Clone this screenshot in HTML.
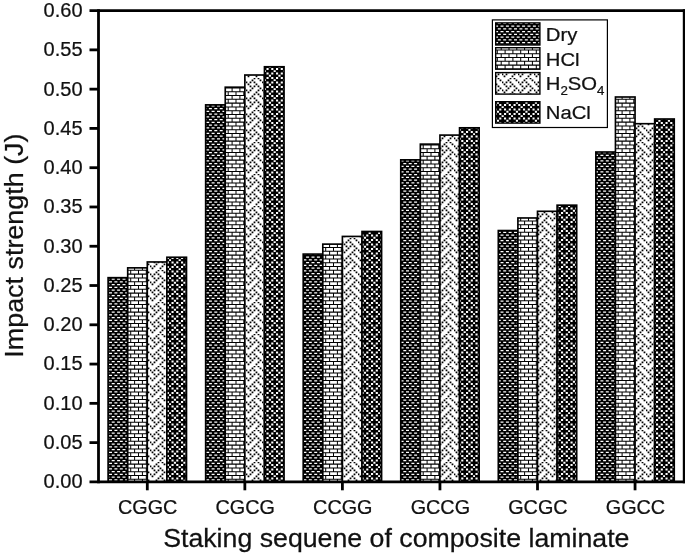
<!DOCTYPE html>
<html><head><meta charset="utf-8"><title>Impact strength chart</title>
<style>
html,body{margin:0;padding:0;background:#fff;}
body{width:685px;height:556px;overflow:hidden;}
svg{display:block;}
text{font-family:"Liberation Sans",sans-serif;fill:#111;stroke:#111;stroke-width:0.25px;}
</style></head><body>
<svg width="685" height="556" viewBox="0 0 685 556">
<defs>
<pattern id="p-dry" patternUnits="userSpaceOnUse" width="27" height="11"><rect width="27" height="11" fill="#000"/><path fill="#fff" d="M-4.40 0.70h3.00v1.25h-3.00zM1.00 0.70h3.00v1.25h-3.00zM6.40 0.70h3.00v1.25h-3.00zM11.80 0.70h3.00v1.25h-3.00zM17.20 0.70h3.00v1.25h-3.00zM22.60 0.70h3.00v1.25h-3.00zM28.00 0.70h3.00v1.25h-3.00zM-1.70 3.45h3.00v1.25h-3.00zM3.70 3.45h3.00v1.25h-3.00zM9.10 3.45h3.00v1.25h-3.00zM14.50 3.45h3.00v1.25h-3.00zM19.90 3.45h3.00v1.25h-3.00zM25.30 3.45h3.00v1.25h-3.00zM30.70 3.45h3.00v1.25h-3.00zM-4.40 6.20h3.00v1.25h-3.00zM1.00 6.20h3.00v1.25h-3.00zM6.40 6.20h3.00v1.25h-3.00zM11.80 6.20h3.00v1.25h-3.00zM17.20 6.20h3.00v1.25h-3.00zM22.60 6.20h3.00v1.25h-3.00zM28.00 6.20h3.00v1.25h-3.00zM-1.70 8.95h3.00v1.25h-3.00zM3.70 8.95h3.00v1.25h-3.00zM9.10 8.95h3.00v1.25h-3.00zM14.50 8.95h3.00v1.25h-3.00zM19.90 8.95h3.00v1.25h-3.00zM25.30 8.95h3.00v1.25h-3.00zM30.70 8.95h3.00v1.25h-3.00z"/></pattern>
<pattern id="p-hcl" patternUnits="userSpaceOnUse" width="78" height="38"><rect width="78" height="38" fill="#fff"/><path fill="#000" d="M0 0.00h78v1.05h-78zM1.50 0.00h1.00v3.80h-1.00zM9.30 0.00h1.00v3.80h-1.00zM17.10 0.00h1.00v3.80h-1.00zM24.90 0.00h1.00v3.80h-1.00zM32.70 0.00h1.00v3.80h-1.00zM40.50 0.00h1.00v3.80h-1.00zM48.30 0.00h1.00v3.80h-1.00zM56.10 0.00h1.00v3.80h-1.00zM63.90 0.00h1.00v3.80h-1.00zM71.70 0.00h1.00v3.80h-1.00zM0 3.80h78v1.05h-78zM5.40 3.80h1.00v3.80h-1.00zM13.20 3.80h1.00v3.80h-1.00zM21.00 3.80h1.00v3.80h-1.00zM28.80 3.80h1.00v3.80h-1.00zM36.60 3.80h1.00v3.80h-1.00zM44.40 3.80h1.00v3.80h-1.00zM52.20 3.80h1.00v3.80h-1.00zM60.00 3.80h1.00v3.80h-1.00zM67.80 3.80h1.00v3.80h-1.00zM75.60 3.80h1.00v3.80h-1.00zM0 7.60h78v1.05h-78zM1.50 7.60h1.00v3.80h-1.00zM9.30 7.60h1.00v3.80h-1.00zM17.10 7.60h1.00v3.80h-1.00zM24.90 7.60h1.00v3.80h-1.00zM32.70 7.60h1.00v3.80h-1.00zM40.50 7.60h1.00v3.80h-1.00zM48.30 7.60h1.00v3.80h-1.00zM56.10 7.60h1.00v3.80h-1.00zM63.90 7.60h1.00v3.80h-1.00zM71.70 7.60h1.00v3.80h-1.00zM0 11.40h78v1.05h-78zM5.40 11.40h1.00v3.80h-1.00zM13.20 11.40h1.00v3.80h-1.00zM21.00 11.40h1.00v3.80h-1.00zM28.80 11.40h1.00v3.80h-1.00zM36.60 11.40h1.00v3.80h-1.00zM44.40 11.40h1.00v3.80h-1.00zM52.20 11.40h1.00v3.80h-1.00zM60.00 11.40h1.00v3.80h-1.00zM67.80 11.40h1.00v3.80h-1.00zM75.60 11.40h1.00v3.80h-1.00zM0 15.20h78v1.05h-78zM1.50 15.20h1.00v3.80h-1.00zM9.30 15.20h1.00v3.80h-1.00zM17.10 15.20h1.00v3.80h-1.00zM24.90 15.20h1.00v3.80h-1.00zM32.70 15.20h1.00v3.80h-1.00zM40.50 15.20h1.00v3.80h-1.00zM48.30 15.20h1.00v3.80h-1.00zM56.10 15.20h1.00v3.80h-1.00zM63.90 15.20h1.00v3.80h-1.00zM71.70 15.20h1.00v3.80h-1.00zM0 19.00h78v1.05h-78zM5.40 19.00h1.00v3.80h-1.00zM13.20 19.00h1.00v3.80h-1.00zM21.00 19.00h1.00v3.80h-1.00zM28.80 19.00h1.00v3.80h-1.00zM36.60 19.00h1.00v3.80h-1.00zM44.40 19.00h1.00v3.80h-1.00zM52.20 19.00h1.00v3.80h-1.00zM60.00 19.00h1.00v3.80h-1.00zM67.80 19.00h1.00v3.80h-1.00zM75.60 19.00h1.00v3.80h-1.00zM0 22.80h78v1.05h-78zM1.50 22.80h1.00v3.80h-1.00zM9.30 22.80h1.00v3.80h-1.00zM17.10 22.80h1.00v3.80h-1.00zM24.90 22.80h1.00v3.80h-1.00zM32.70 22.80h1.00v3.80h-1.00zM40.50 22.80h1.00v3.80h-1.00zM48.30 22.80h1.00v3.80h-1.00zM56.10 22.80h1.00v3.80h-1.00zM63.90 22.80h1.00v3.80h-1.00zM71.70 22.80h1.00v3.80h-1.00zM0 26.60h78v1.05h-78zM5.40 26.60h1.00v3.80h-1.00zM13.20 26.60h1.00v3.80h-1.00zM21.00 26.60h1.00v3.80h-1.00zM28.80 26.60h1.00v3.80h-1.00zM36.60 26.60h1.00v3.80h-1.00zM44.40 26.60h1.00v3.80h-1.00zM52.20 26.60h1.00v3.80h-1.00zM60.00 26.60h1.00v3.80h-1.00zM67.80 26.60h1.00v3.80h-1.00zM75.60 26.60h1.00v3.80h-1.00zM0 30.40h78v1.05h-78zM1.50 30.40h1.00v3.80h-1.00zM9.30 30.40h1.00v3.80h-1.00zM17.10 30.40h1.00v3.80h-1.00zM24.90 30.40h1.00v3.80h-1.00zM32.70 30.40h1.00v3.80h-1.00zM40.50 30.40h1.00v3.80h-1.00zM48.30 30.40h1.00v3.80h-1.00zM56.10 30.40h1.00v3.80h-1.00zM63.90 30.40h1.00v3.80h-1.00zM71.70 30.40h1.00v3.80h-1.00zM0 34.20h78v1.05h-78zM5.40 34.20h1.00v3.80h-1.00zM13.20 34.20h1.00v3.80h-1.00zM21.00 34.20h1.00v3.80h-1.00zM28.80 34.20h1.00v3.80h-1.00zM36.60 34.20h1.00v3.80h-1.00zM44.40 34.20h1.00v3.80h-1.00zM52.20 34.20h1.00v3.80h-1.00zM60.00 34.20h1.00v3.80h-1.00zM67.80 34.20h1.00v3.80h-1.00zM75.60 34.20h1.00v3.80h-1.00z"/></pattern>
<pattern id="p-h2so4" patternUnits="userSpaceOnUse" x="6" y="14" width="16" height="32"><rect width="16" height="32" fill="#fff"/><path fill="#000" d="M7.62 -0.38h1.75v1.75h-1.75zM11.62 -0.38h1.75v1.75h-1.75zM5.62 1.62h1.75v1.75h-1.75zM13.62 1.62h1.75v1.75h-1.75zM-0.38 3.62h1.75v1.75h-1.75zM3.62 3.62h1.75v1.75h-1.75zM7.62 3.62h1.75v1.75h-1.75zM1.62 5.62h1.75v1.75h-1.75zM9.62 5.62h1.75v1.75h-1.75zM3.62 7.62h1.75v1.75h-1.75zM7.62 7.62h1.75v1.75h-1.75zM11.62 7.62h1.75v1.75h-1.75zM5.62 9.62h1.75v1.75h-1.75zM13.62 9.62h1.75v1.75h-1.75zM-0.38 11.62h1.75v1.75h-1.75zM3.62 11.62h1.75v1.75h-1.75zM11.62 11.62h1.75v1.75h-1.75zM1.62 13.62h1.75v1.75h-1.75zM9.62 13.62h1.75v1.75h-1.75zM7.62 15.62h1.75v1.75h-1.75zM11.62 15.62h1.75v1.75h-1.75zM5.62 17.62h1.75v1.75h-1.75zM13.62 17.62h1.75v1.75h-1.75zM-0.38 19.62h1.75v1.75h-1.75zM3.62 19.62h1.75v1.75h-1.75zM7.62 19.62h1.75v1.75h-1.75zM1.62 21.62h1.75v1.75h-1.75zM9.62 21.62h1.75v1.75h-1.75zM3.62 23.62h1.75v1.75h-1.75zM7.62 23.62h1.75v1.75h-1.75zM11.62 23.62h1.75v1.75h-1.75zM5.62 25.62h1.75v1.75h-1.75zM13.62 25.62h1.75v1.75h-1.75zM-0.38 27.62h1.75v1.75h-1.75zM3.62 27.62h1.75v1.75h-1.75zM11.62 27.62h1.75v1.75h-1.75zM1.62 29.62h1.75v1.75h-1.75zM9.62 29.62h1.75v1.75h-1.75z"/></pattern>
<pattern id="p-nacl" patternUnits="userSpaceOnUse" width="19" height="9"><rect width="19" height="9" fill="#000"/><path fill="#fff" d="M0.500 0.40h2.10v2.10h-2.10zM5.250 0.40h2.10v2.10h-2.10zM2.875 2.65h2.10v2.10h-2.10zM0.500 4.90h2.10v2.10h-2.10zM5.250 4.90h2.10v2.10h-2.10zM7.625 7.15h2.10v2.10h-2.10zM10.000 0.40h2.10v2.10h-2.10zM14.750 0.40h2.10v2.10h-2.10zM12.375 2.65h2.10v2.10h-2.10zM10.000 4.90h2.10v2.10h-2.10zM14.750 4.90h2.10v2.10h-2.10zM17.125 7.15h2.10v2.10h-2.10z"/></pattern>
</defs>
<rect width="685" height="556" fill="#fff"/>
<g stroke="#000" stroke-width="1.65">
<rect x="108.10" y="277.67" width="19.60" height="204.23" fill="url(#p-dry)"/>
<rect x="127.70" y="267.85" width="19.60" height="214.05" fill="url(#p-hcl)"/>
<rect x="147.30" y="261.96" width="19.60" height="219.94" fill="url(#p-h2so4)"/>
<rect x="166.90" y="257.25" width="19.60" height="224.65" fill="url(#p-nacl)"/>
<rect x="205.65" y="104.86" width="19.60" height="377.04" fill="url(#p-dry)"/>
<rect x="225.25" y="87.19" width="19.60" height="394.71" fill="url(#p-hcl)"/>
<rect x="244.85" y="75.01" width="19.60" height="406.89" fill="url(#p-h2so4)"/>
<rect x="264.45" y="66.76" width="19.60" height="415.14" fill="url(#p-nacl)"/>
<rect x="303.20" y="254.10" width="19.60" height="227.79" fill="url(#p-dry)"/>
<rect x="322.80" y="244.13" width="19.60" height="237.77" fill="url(#p-hcl)"/>
<rect x="342.40" y="236.43" width="19.60" height="245.47" fill="url(#p-h2so4)"/>
<rect x="362.00" y="231.48" width="19.60" height="250.42" fill="url(#p-nacl)"/>
<rect x="400.75" y="159.84" width="19.60" height="322.06" fill="url(#p-dry)"/>
<rect x="420.35" y="144.13" width="19.60" height="337.76" fill="url(#p-hcl)"/>
<rect x="439.95" y="135.10" width="19.60" height="346.80" fill="url(#p-h2so4)"/>
<rect x="459.55" y="127.80" width="19.60" height="354.10" fill="url(#p-nacl)"/>
<rect x="498.30" y="230.54" width="19.60" height="251.36" fill="url(#p-dry)"/>
<rect x="517.90" y="217.97" width="19.60" height="263.93" fill="url(#p-hcl)"/>
<rect x="537.50" y="211.30" width="19.60" height="270.60" fill="url(#p-h2so4)"/>
<rect x="557.10" y="205.17" width="19.60" height="276.73" fill="url(#p-nacl)"/>
<rect x="595.85" y="151.99" width="19.60" height="329.91" fill="url(#p-dry)"/>
<rect x="615.45" y="97.00" width="19.60" height="384.89" fill="url(#p-hcl)"/>
<rect x="635.05" y="123.71" width="19.60" height="358.19" fill="url(#p-h2so4)"/>
<rect x="654.65" y="119.00" width="19.60" height="362.90" fill="url(#p-nacl)"/>
</g>
<g stroke="#000" stroke-width="2.8" fill="none" stroke-linecap="butt">
<path d="M89.5 10.6H686"/>
<path d="M98.5 9.2V483.3"/>
<path d="M684.2 9.2V483.3"/>
<path d="M89.5 481.9H686"/>
<path d="M89.5 442.62H98.5"/>
<path d="M89.5 403.35H98.5"/>
<path d="M89.5 364.07H98.5"/>
<path d="M89.5 324.80H98.5"/>
<path d="M89.5 285.52H98.5"/>
<path d="M89.5 246.25H98.5"/>
<path d="M89.5 206.97H98.5"/>
<path d="M89.5 167.70H98.5"/>
<path d="M89.5 128.42H98.5"/>
<path d="M89.5 89.15H98.5"/>
<path d="M89.5 49.87H98.5"/>
<path d="M147.30 481.9V490.3"/>
<path d="M244.85 481.9V490.3"/>
<path d="M342.40 481.9V490.3"/>
<path d="M439.95 481.9V490.3"/>
<path d="M537.50 481.9V490.3"/>
<path d="M635.05 481.9V490.3"/>
</g>
<g font-size="21" text-anchor="end">
<text transform="translate(82.6 488.30) scale(0.955 1)">0.00</text>
<text transform="translate(82.6 449.02) scale(0.955 1)">0.05</text>
<text transform="translate(82.6 409.75) scale(0.955 1)">0.10</text>
<text transform="translate(82.6 370.47) scale(0.955 1)">0.15</text>
<text transform="translate(82.6 331.20) scale(0.955 1)">0.20</text>
<text transform="translate(82.6 291.92) scale(0.955 1)">0.25</text>
<text transform="translate(82.6 252.65) scale(0.955 1)">0.30</text>
<text transform="translate(82.6 213.37) scale(0.955 1)">0.35</text>
<text transform="translate(82.6 174.10) scale(0.955 1)">0.40</text>
<text transform="translate(82.6 134.82) scale(0.955 1)">0.45</text>
<text transform="translate(82.6 95.55) scale(0.955 1)">0.50</text>
<text transform="translate(82.6 56.27) scale(0.955 1)">0.55</text>
<text transform="translate(82.6 17.00) scale(0.955 1)">0.60</text>
</g>
<g font-size="20.8" text-anchor="middle">
<text transform="translate(147.70 514.1) scale(0.953 1)">CGGC</text>
<text transform="translate(245.25 514.1) scale(0.953 1)">CGCG</text>
<text transform="translate(342.80 514.1) scale(0.953 1)">CCGG</text>
<text transform="translate(440.35 514.1) scale(0.953 1)">GCCG</text>
<text transform="translate(537.90 514.1) scale(0.953 1)">GCGC</text>
<text transform="translate(635.45 514.1) scale(0.953 1)">GGCC</text>
</g>
<text transform="translate(396.3 547.1) scale(1.02 1)" font-size="26.2" text-anchor="middle">Staking sequene of composite laminate</text>
<text transform="translate(22.8 245.6) rotate(-90) scale(1.047 1)" font-size="25.7" text-anchor="middle">Impact strength (J)</text>
<rect x="492.4" y="19.9" width="115" height="107.6" fill="#fff" stroke="#000" stroke-width="1.2"/>
<rect x="495.7" y="22.90" width="44.2" height="22.10" fill="url(#p-dry)" stroke="#000" stroke-width="1.4"/>
<rect x="495.7" y="47.70" width="44.2" height="21.50" fill="url(#p-hcl)" stroke="#000" stroke-width="1.4"/>
<rect x="495.7" y="72.60" width="44.2" height="21.50" fill="url(#p-h2so4)" stroke="#000" stroke-width="1.4"/>
<rect x="495.7" y="101.70" width="44.2" height="21.40" fill="url(#p-nacl)" stroke="#000" stroke-width="1.4"/>
<g font-size="19">
<text transform="translate(545.8 40.7) scale(1.065 1)">Dry</text>
<text transform="translate(545.8 65.5) scale(1.065 1)">HCl</text>
<text transform="translate(545.8 90.0) scale(1.065 1)">H<tspan font-size="12.5" dy="5">2</tspan><tspan dy="-5">SO</tspan><tspan font-size="12.5" dy="5">4</tspan></text>
<text transform="translate(545.8 119.1) scale(1.065 1)">NaCl</text>
</g>
</svg></body></html>
